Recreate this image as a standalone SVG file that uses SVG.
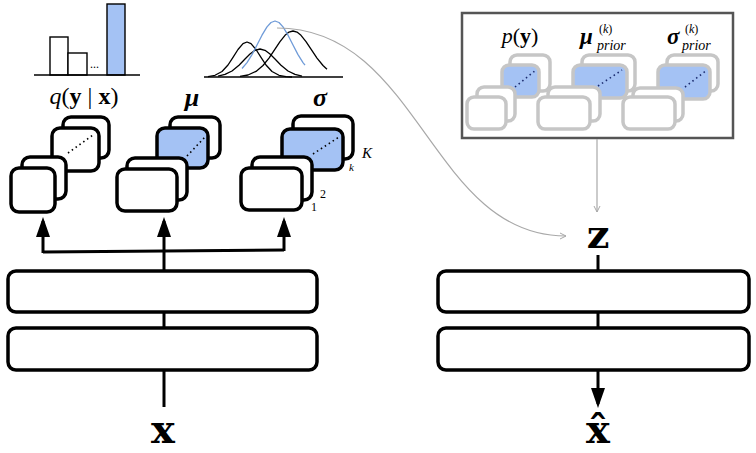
<svg xmlns="http://www.w3.org/2000/svg" width="756" height="453" viewBox="0 0 756 453">
<defs>
<style>
.card{fill:#fff;stroke:#000;stroke-width:3.5}
.pcard{fill:#fff;stroke:#c6c6c6;stroke-width:3.5}
.card.blue,.pcard.blue{fill:#a4c2f4}
.dots{stroke:#000;stroke-width:1.6;stroke-dasharray:1.5 3.2;fill:none}
.pdots{stroke:#1a2a6e;stroke-width:1.6;stroke-dasharray:1.5 3.2;fill:none}
.layer{fill:#fff;stroke:#000;stroke-width:3.5}
.conn{stroke:#000;stroke-width:3;fill:none}
.gconn{stroke:#a8a8a8;stroke-width:1.2;fill:none}
.thin{stroke:#000;stroke-width:1.4;fill:none}
.curve{stroke:#000;stroke-width:1.3;fill:none;stroke-linejoin:round}
.lbl{font-family:"Liberation Serif","DejaVu Serif",serif;fill:#000}
.big{font-family:"DejaVu Serif","Liberation Serif",serif;font-weight:bold;font-size:40px;fill:#000}
</style>
<marker id="ah" markerUnits="userSpaceOnUse" markerWidth="20" markerHeight="14" viewBox="0 0 20 14" refX="16" refY="7" orient="auto"><path d="M0,0 L20,7 L0,14 z" fill="#000"/></marker>
<marker id="gah" markerUnits="userSpaceOnUse" markerWidth="8" markerHeight="8" viewBox="0 0 8 8" refX="7" refY="4" orient="auto"><path d="M1,1 L7,4 L1,7" fill="none" stroke="#a8a8a8" stroke-width="1"/></marker>
</defs>
<rect width="756" height="453" fill="#fff"/>

<g id="hist-q">
<rect x="50" y="37" width="18" height="38" fill="#fff" stroke="#000" stroke-width="1.4"/>
<rect x="68" y="53" width="19" height="22" fill="#fff" stroke="#000" stroke-width="1.4"/>
<rect x="107" y="4" width="18" height="71" fill="#a4c2f4" stroke="#000" stroke-width="1.4"/>
<text class="lbl" x="90" y="68" font-size="12">...</text>
<line class="thin" x1="34" y1="75" x2="140" y2="75"/>
</g>

<g id="gauss-mu">
<line class="thin" x1="204" y1="77" x2="343" y2="77"/>
<polyline class="curve" points="208,76.6 215,75.3 222,71.5 228,65 233,57.4 238,49.5 243,43.6 247,42 251,43.6 256,49.5 261,57.4 266,65 272,71.5 279,75.3 286,76.6 292,77"/>
<polyline class="curve" points="218,76.1 225,74.4 232,71 239,65.2 245,59 250,54 255,50.3 260,49 265,50.3 270,54 275,59 281,65.2 288,71 295,74.4 302,76.1"/>
<polyline class="curve" points="240,76.4 248,75 256,71.4 263,65.5 269,58.1 275,49.1 280,41.6 285,35.3 289,32.1 293,31 297,32.1 301,35.3 306,41.6 311,49.1 317,58.1 323,65.5 327,69.3"/>
<polyline class="curve" style="stroke:#6f9bd8" points="242,68.5 247,62.6 252,54.6 257,45 262,35.2 267,26.9 271,22.5 275,21 279,22.5 283,26.9 288,35.2 293,45 298,54.6 303,62.6 305,65.2"/>
</g>

<g id="stack-q">
<rect class="card" x="63" y="117" width="46" height="41" rx="8"/>
<rect class="card" x="52" y="128" width="47" height="43" rx="8"/>
<line class="dots" x1="68" y1="153" x2="93" y2="135"/>
<rect class="card" x="22" y="157" width="44" height="42" rx="8"/>
<rect class="card" x="11" y="168" width="44" height="44" rx="8"/>
<text class="lbl" x="84" y="104" font-size="24" text-anchor="middle"><tspan font-style="italic">q</tspan>(<tspan font-weight="bold">y</tspan> | <tspan font-weight="bold">x</tspan>)</text>
</g>

<g id="stack-mu">
<rect class="card" x="170" y="117" width="50" height="41" rx="8"/>
<rect class="card blue" x="157" y="128" width="51" height="40" rx="8"/>
<line class="dots" x1="187" y1="156" x2="205" y2="137"/>
<rect class="card" x="127" y="158" width="60" height="42" rx="8"/>
<rect class="card" x="117" y="169" width="60" height="42" rx="8"/>
<text class="lbl" x="192" y="106" font-size="26" font-weight="bold" font-style="italic" text-anchor="middle">μ</text>
</g>

<g id="stack-sigma">
<rect class="card" x="293" y="116" width="60" height="43" rx="8"/>
<rect class="card blue" x="282" y="129" width="61" height="41" rx="8"/>
<line class="dots" x1="313" y1="154" x2="339" y2="137"/>
<rect class="card" x="252" y="157" width="60" height="43" rx="8"/>
<rect class="card" x="241" y="168" width="61" height="42" rx="8"/>
<text class="lbl" x="320" y="106" font-size="26" font-weight="bold" font-style="italic" text-anchor="middle">σ</text>
<text class="lbl" x="362" y="158" font-size="15" font-style="italic">K</text>
<text class="lbl" x="349" y="171" font-size="11" font-style="italic">k</text>
<text class="lbl" x="320" y="198" font-size="12">2</text>
<text class="lbl" x="311" y="211" font-size="12">1</text>
</g>

<g id="prior">
<rect x="462" y="13" width="271" height="125" fill="#fff" stroke="#555" stroke-width="2.5"/>
<g id="prior-py">
<rect class="pcard" x="510" y="55" width="40" height="36" rx="7"/>
<rect class="pcard blue" x="502" y="65" width="37" height="32" rx="7"/>
<line class="pdots" x1="515" y1="87" x2="536" y2="70"/>
<rect class="pcard" x="477" y="87" width="38" height="34" rx="7"/>
<rect class="pcard" x="467" y="97" width="39" height="32" rx="7"/>
<text class="lbl" x="520" y="43" font-size="22" text-anchor="middle"><tspan font-style="italic">p</tspan>(<tspan font-weight="bold">y</tspan>)</text>
</g>
<g id="prior-mu">
<rect class="pcard" x="582" y="55" width="53" height="36" rx="7"/>
<rect class="pcard blue" x="573" y="65" width="54" height="33" rx="7"/>
<line class="pdots" x1="598" y1="86" x2="622" y2="70"/>
<rect class="pcard" x="548" y="87" width="52" height="34" rx="7"/>
<rect class="pcard" x="538" y="97" width="52" height="32" rx="7"/>
<text class="lbl" x="580" y="44" font-size="23" font-weight="bold" font-style="italic">μ</text>
<text class="lbl" x="599" y="33" font-size="12">(<tspan font-style="italic">k</tspan>)</text>
<text class="lbl" x="597" y="50" font-size="14" font-style="italic">prior</text>
</g>
<g id="prior-sigma">
<rect class="pcard" x="667" y="55" width="51" height="36" rx="7"/>
<rect class="pcard blue" x="658" y="65" width="52" height="34" rx="7"/>
<line class="pdots" x1="685" y1="87" x2="707" y2="70"/>
<rect class="pcard" x="633" y="88" width="50" height="33" rx="7"/>
<rect class="pcard" x="623" y="97" width="52" height="32" rx="7"/>
<text class="lbl" x="667" y="44" font-size="23" font-weight="bold" font-style="italic">σ</text>
<text class="lbl" x="685" y="33" font-size="12">(<tspan font-style="italic">k</tspan>)</text>
<text class="lbl" x="682" y="50" font-size="14" font-style="italic">prior</text>
</g>
</g>

<g id="encoder-layer1"><rect class="layer" x="8" y="271" width="309" height="41" rx="8"/></g>
<g id="encoder-layer2"><rect class="layer" x="8" y="328" width="309" height="42" rx="8"/></g>
<g id="decoder-layer1"><rect class="layer" x="438" y="271" width="311" height="41" rx="8"/></g>
<g id="decoder-layer2"><rect class="layer" x="438" y="328" width="311" height="42" rx="8"/></g>

<g id="label-x"><text class="big" x="163" y="443" text-anchor="middle">x</text></g>
<g id="label-z"><text class="big" x="598" y="248" text-anchor="middle">z</text></g>
<g id="label-xhat"><text class="big" x="598" y="443" text-anchor="middle">x̂</text></g>

<g id="connectors">
<line class="conn" x1="164" y1="407" x2="164" y2="370"/>
<line class="conn" x1="164" y1="328" x2="164" y2="312"/>
<line class="conn" x1="164" y1="271" x2="164" y2="221" marker-end="url(#ah)"/>
<polyline class="conn" points="43,252 164,251 284,250"/>
<line class="conn" x1="43" y1="253" x2="43" y2="221" marker-end="url(#ah)"/>
<line class="conn" x1="284" y1="251" x2="284" y2="221" marker-end="url(#ah)"/>
<line class="conn" x1="598" y1="255" x2="598" y2="271"/>
<line class="conn" x1="598" y1="312" x2="598" y2="328"/>
<line class="conn" x1="598" y1="370" x2="598" y2="404" marker-end="url(#ah)"/>
<path class="gconn" d="M277,28 C420,28 430,236 566,236" marker-end="url(#gah)"/>
<line class="gconn" x1="597" y1="139" x2="597" y2="212" marker-end="url(#gah)"/>
</g>
</svg>
